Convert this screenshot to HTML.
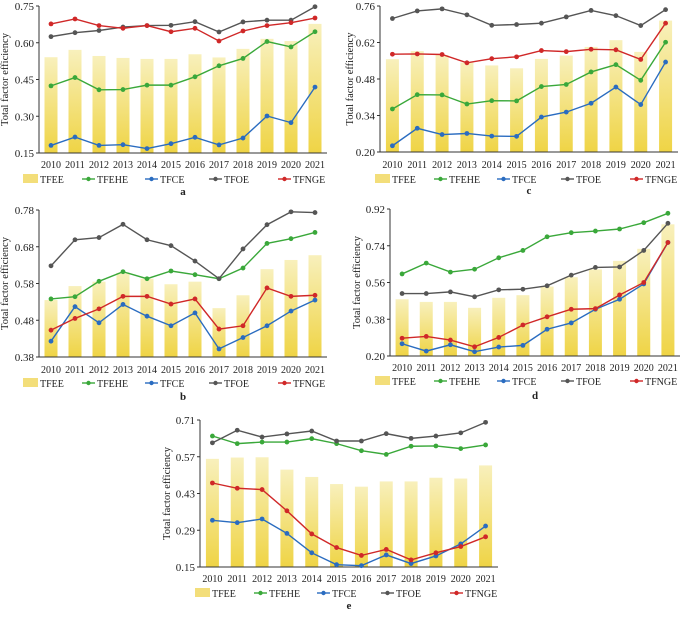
<!DOCTYPE html>
<html><head><meta charset="utf-8"><style>
body{margin:0;background:#fff;width:685px;height:613px;overflow:hidden}
svg text{font-family:"Liberation Serif",serif;fill:#222}
</style></head><body>
<svg id="chart" width="685" height="613" viewBox="0 0 685 613" xmlns="http://www.w3.org/2000/svg">
<defs><linearGradient id="barg" x1="0" y1="0" x2="0" y2="1"><stop offset="0" stop-color="#f8f0bc"/><stop offset="1" stop-color="#efd445"/></linearGradient></defs>
</svg>
<script>
const years=["2010","2011","2012","2013","2014","2015","2016","2017","2018","2019","2020","2021"];
const seriesNames=["TFEE","TFEHE","TFCE","TFOE","TFNGE"];
const aTicks=["0.15","0.30","0.45","0.60","0.75"];
const aTFEE=[0.541,0.571,0.546,0.538,0.534,0.534,0.553,0.540,0.575,0.616,0.607,0.677];
const aTFEHE=[0.424,0.458,0.408,0.409,0.427,0.427,0.461,0.506,0.536,0.605,0.583,0.645];
const aTFCE=[0.181,0.215,0.181,0.184,0.168,0.188,0.214,0.183,0.211,0.301,0.274,0.419];
const aTFOE=[0.625,0.641,0.650,0.664,0.670,0.671,0.686,0.644,0.685,0.692,0.692,0.747];
const aTFNGE=[0.677,0.697,0.670,0.659,0.670,0.645,0.659,0.607,0.648,0.670,0.682,0.701];
const bTicks=["0.38","0.48","0.58","0.68","0.78"];
const bTFEE=[0.535,0.573,0.585,0.609,0.593,0.578,0.585,0.513,0.548,0.619,0.644,0.657];
const bTFEHE=[0.538,0.544,0.586,0.612,0.593,0.614,0.604,0.593,0.622,0.689,0.702,0.719];
const bTFCE=[0.423,0.517,0.473,0.523,0.491,0.465,0.500,0.402,0.433,0.465,0.505,0.535];
const bTFOE=[0.628,0.699,0.705,0.741,0.699,0.683,0.641,0.593,0.674,0.740,0.775,0.773];
const bTFNGE=[0.453,0.485,0.511,0.545,0.545,0.524,0.538,0.456,0.465,0.568,0.545,0.548];
const cTicks=["0.20","0.34","0.48","0.62","0.76"];
const cTFEE=[0.556,0.587,0.572,0.543,0.532,0.521,0.557,0.570,0.603,0.629,0.584,0.704];
const cTFEHE=[0.365,0.420,0.419,0.384,0.397,0.396,0.451,0.459,0.507,0.535,0.475,0.621];
const cTFCE=[0.224,0.291,0.267,0.271,0.261,0.260,0.334,0.353,0.387,0.449,0.382,0.545];
const cTFOE=[0.712,0.741,0.749,0.726,0.686,0.689,0.694,0.718,0.743,0.723,0.685,0.746];
const cTFNGE=[0.575,0.576,0.574,0.542,0.558,0.565,0.589,0.585,0.594,0.592,0.555,0.694];
const dTicks=["0.20","0.38","0.56","0.74","0.92"];
const dTFEE=[0.478,0.465,0.465,0.436,0.485,0.498,0.540,0.586,0.624,0.666,0.725,0.845];
const dTFEHE=[0.602,0.655,0.611,0.625,0.681,0.717,0.784,0.804,0.812,0.822,0.853,0.899];
const dTFCE=[0.260,0.224,0.255,0.221,0.244,0.252,0.331,0.362,0.429,0.478,0.553,0.756];
const dTFOE=[0.506,0.506,0.514,0.490,0.524,0.527,0.544,0.596,0.634,0.636,0.717,0.850];
const dTFNGE=[0.287,0.296,0.278,0.245,0.291,0.352,0.392,0.429,0.432,0.499,0.560,0.756];
const eTicks=["0.15","0.29","0.43","0.57","0.71"];
const eTFEE=[0.562,0.567,0.568,0.521,0.493,0.466,0.456,0.476,0.476,0.490,0.487,0.537];
const eTFEHE=[0.649,0.620,0.626,0.626,0.639,0.620,0.593,0.579,0.610,0.611,0.601,0.615];
const eTFCE=[0.328,0.319,0.333,0.278,0.204,0.159,0.155,0.196,0.163,0.192,0.238,0.306];
const eTFOE=[0.623,0.671,0.645,0.657,0.668,0.630,0.630,0.658,0.640,0.649,0.661,0.701];
const eTFNGE=[0.470,0.450,0.445,0.364,0.276,0.224,0.194,0.217,0.177,0.204,0.228,0.265];

const NS="http://www.w3.org/2000/svg";
const svg=document.getElementById('chart');
function mk(tag,attrs,parent){const e=document.createElementNS(NS,tag);for(const k in attrs)e.setAttribute(k,attrs[k]);(parent||svg).appendChild(e);return e;}
const colors={TFEHE:"#3aa83a",TFCE:"#2a6cc0",TFOE:"#555555",TFNGE:"#d02828"};

function panel(id,L,R,T,B,ticks,bars,lines,legX,yearY,legY,labY,titleX){
  const g=mk('g',{});
  
  
  const lo=parseFloat(ticks[0]),hi=parseFloat(ticks[ticks.length-1]);
  const y=v=>B-(v-lo)/(hi-lo)*(B-T);
  const step=(R-L)/years.length;
  const x=i=>L+step*(i+0.5);
  bars.forEach((v,i)=>{const r=mk('rect',{x:x(i)-6.5,y:y(v),width:13,height:B-y(v),fill:'url(#barg)'},g);
    
    });
  const ax=mk('path',{d:`M${L},${T} V${B} H${R}`,stroke:'#333',fill:'none','stroke-width':1},g);
  
  
  ticks.forEach(t=>{const tv=parseFloat(t);mk('line',{x1:L-3,x2:L,y1:y(tv),y2:y(tv),stroke:'#333'},g);
    const tx=mk('text',{x:L-5,y:y(tv)+4,'text-anchor':'end','font-size':11},g);tx.textContent=t;
    
    });
  years.forEach((yr,i)=>{const tx=mk('text',{x:x(i),y:yearY,'text-anchor':'middle','font-size':10},g);tx.textContent=yr;
    
    });
  const yt=mk('text',{x:titleX,y:(T+B)/2,'text-anchor':'middle','font-size':10.5,transform:`rotate(-90 ${titleX} ${(T+B)/2})`},g);
  yt.textContent='Total factor efficiency';
  
  
  lines.forEach((arr,k)=>{const nm=seriesNames[k+1];const c=colors[nm];
    const p=mk('polyline',{points:arr.map((v,i)=>x(i)+','+y(v)).join(' '),fill:'none',stroke:c,'stroke-width':1.4},g);
    
    
    arr.forEach((v,i)=>{const m=mk('circle',{cx:x(i),cy:y(v),r:2.4,fill:c},g);
      
      });});
  const lg=mk('g',{},g);
  
  
  mk('rect',{x:legX,y:legY-5,width:15,height:9,fill:'#f3de7a'},lg);
  const off=[0,59,122,186,255];
  seriesNames.forEach((nm,k)=>{
    if(k>0){mk('line',{x1:legX+off[k],x2:legX+off[k]+13,y1:legY,y2:legY,stroke:colors[nm],'stroke-width':1.4},lg);
      mk('circle',{cx:legX+off[k]+6.5,cy:legY,r:2.2,fill:colors[nm]},lg);}
    const t=mk('text',{x:legX+off[k]+(k?15:17),y:legY+4,'font-size':10},lg);t.textContent=nm;
    
    });
  const lb=mk('text',{x:(L+R)/2,y:labY,'text-anchor':'middle','font-size':11,'font-weight':'bold'},g);lb.textContent=id;
  
  
}
panel('a',39,327,6,153,aTicks,aTFEE,[aTFEHE,aTFCE,aTFOE,aTFNGE],23,168,179,195,8);
panel('c',380,678,6,152,cTicks,cTFEE,[cTFEHE,cTFCE,cTFOE,cTFNGE],375,168,179,194,353);
panel('b',39,327,210,357,bTicks,bTFEE,[bTFEHE,bTFCE,bTFOE,bTFNGE],23,373,383,400,8);
panel('d',390,680,209,356,dTicks,dTFEE,[dTFEHE,dTFCE,dTFOE,dTFNGE],375,371,381,399,360);
panel('e',200,498,420,567,eTicks,eTFEE,[eTFEHE,eTFCE,eTFOE,eTFNGE],195,582,593,609,170);
</script>
</body></html>
